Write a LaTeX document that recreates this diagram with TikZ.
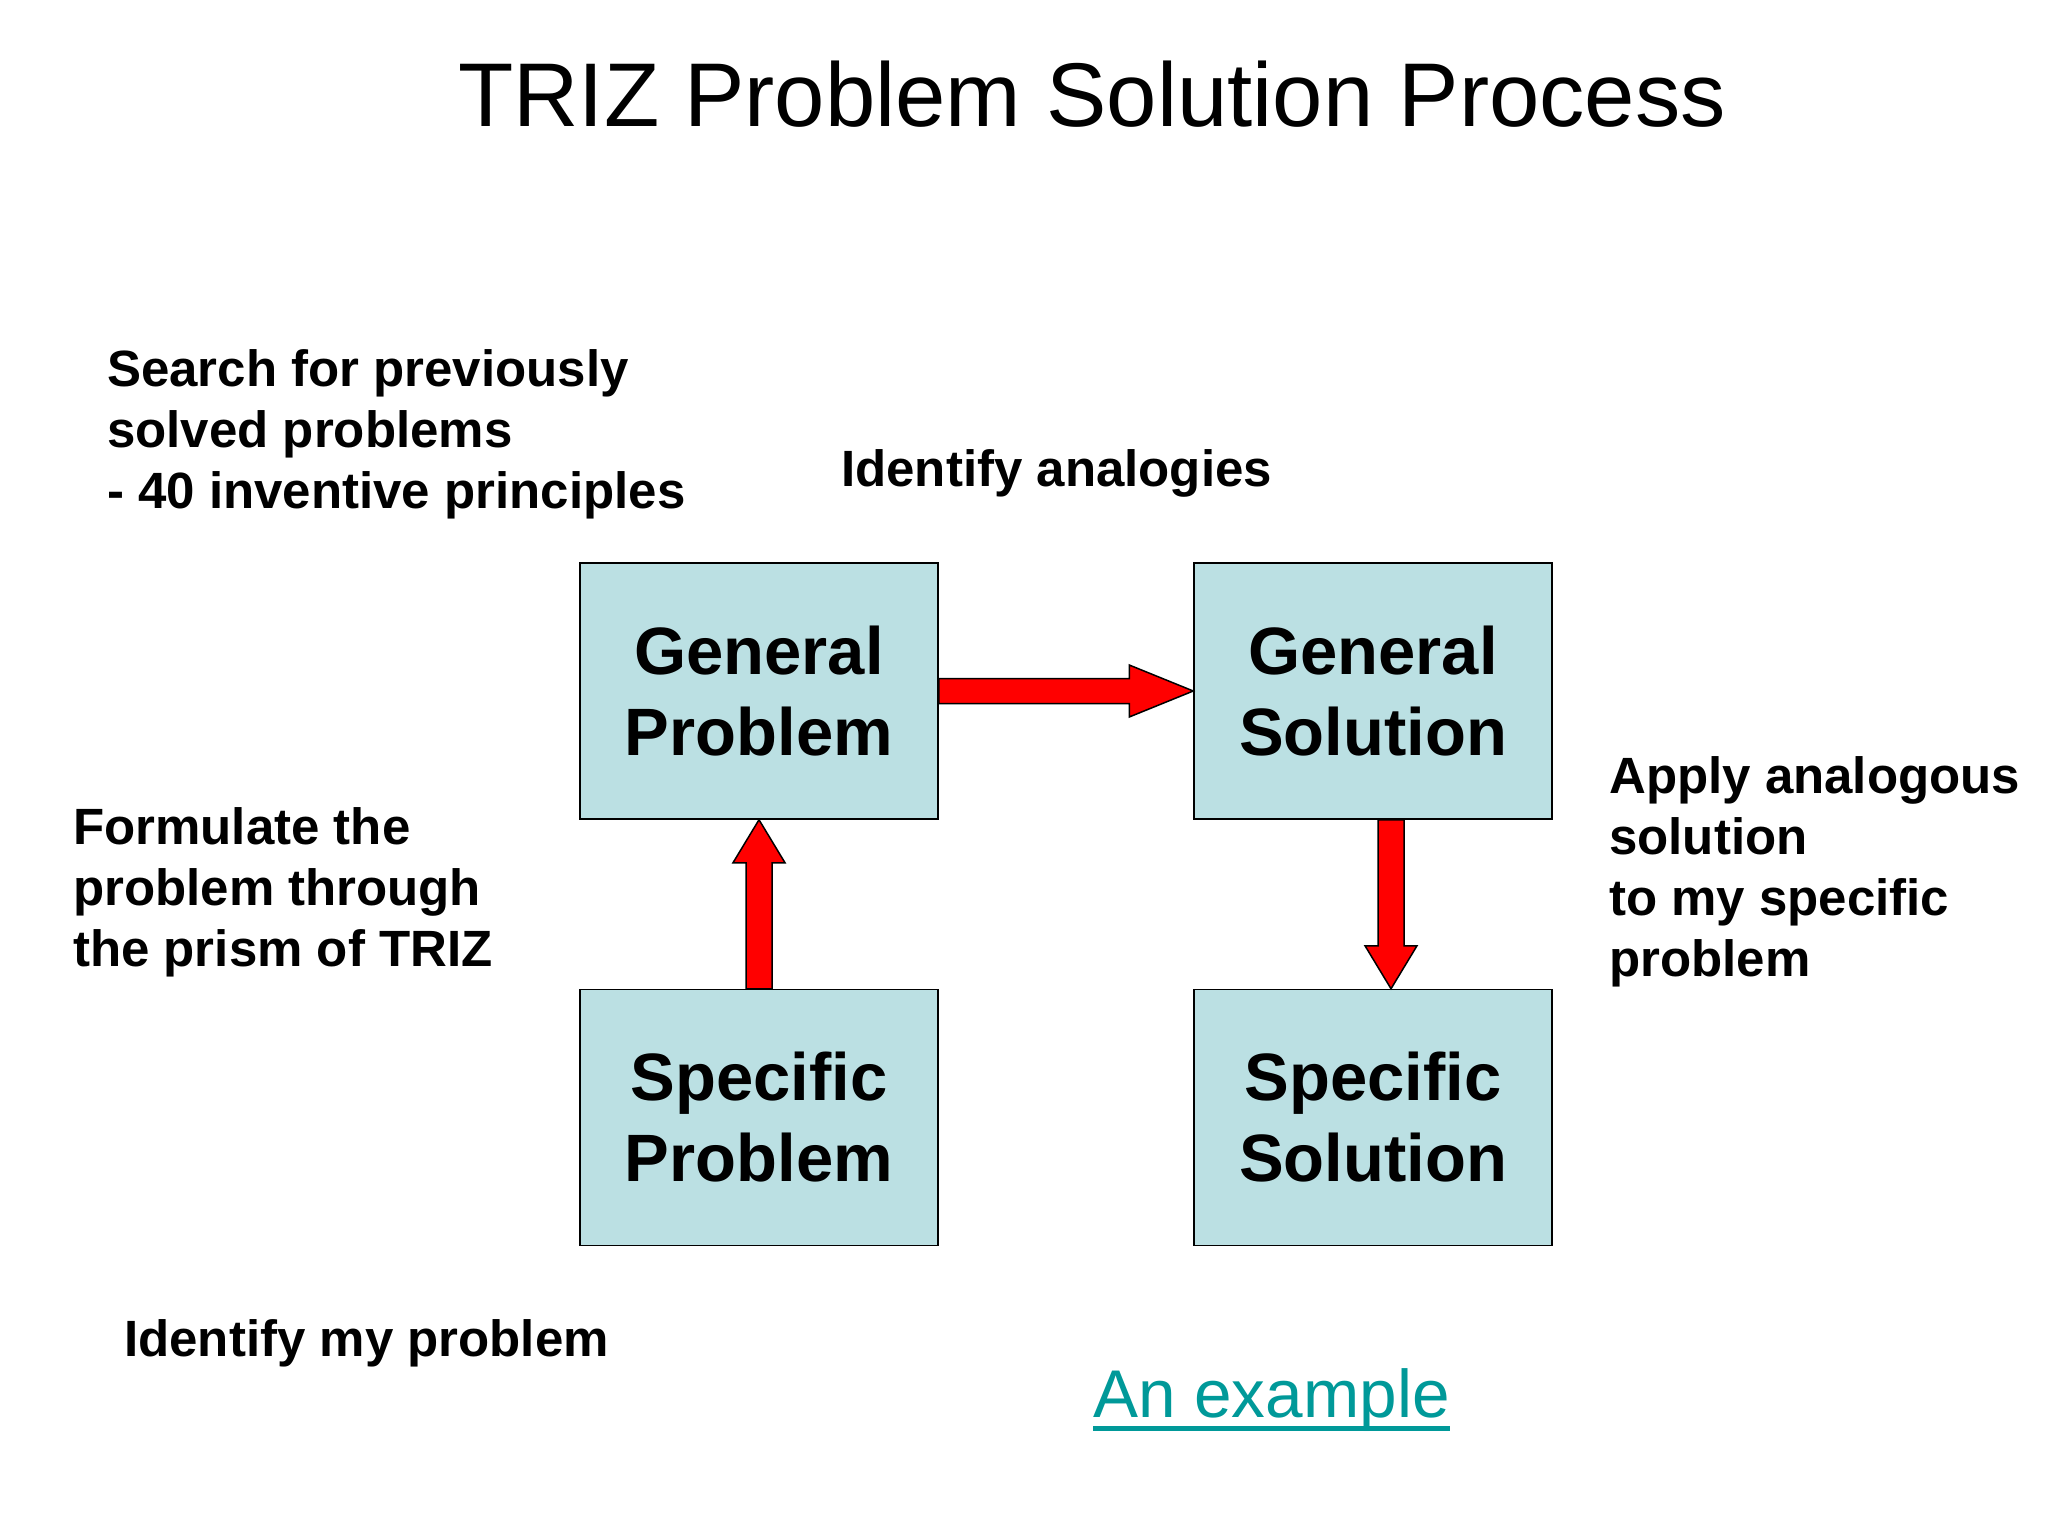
\documentclass[tikz,border=0pt]{standalone}
\usepackage{fontspec}
\setmainfont{Liberation Sans}
\usetikzlibrary{calc}
\definecolor{boxfill}{HTML}{BBE0E3}
\definecolor{linkteal}{HTML}{009999}
\definecolor{arrred}{HTML}{FF0000}
\begin{document}
\begin{tikzpicture}[x=1pt,y=-1pt,
  stagebox/.style={draw=black, line width=1.5pt, fill=boxfill, minimum width=358pt, minimum height=256pt, inner sep=0pt, align=center, font=\fontsize{67}{81}\selectfont\bfseries},
  label/.style={inner sep=0pt, anchor=base west, align=left, font=\fontsize{51}{61}\selectfont\bfseries},
  fatarrow/.style={draw=black, line width=1.5pt, fill=arrred, line join=miter}
]
\useasboundingbox (0,0) rectangle (2048,1536);
\fill[white] (0,0) rectangle (2048,1536);

\node[inner sep=0pt, anchor=base, font=\fontsize{90.5}{108}\selectfont] (title) at (1092,127) {TRIZ Problem Solution Process};

\node[stagebox] (gp) at (759,691) {General\\Problem};
\node[stagebox] (gs) at (1373,691) {General\\Solution};
\node[stagebox] (sp) at (759,1117.5) {Specific\\Problem};
\node[stagebox] (ss) at (1373,1117.5) {Specific\\Solution};

% anchor = baseline of the last line
\node[label] (search) at (107,508) {Search for previously\\solved problems\\- 40 inventive principles};
\node[label] (analog) at (841,486) {Identify analogies};
\node[label] (formul) at (73,966) {Formulate the\\problem through\\the prism of TRIZ};
\node[label] (apply) at (1609,976) {Apply analogous\\solution\\to my specific\\problem};
\node[label] (ident) at (124,1356) {Identify my problem};

\node[inner sep=0pt, anchor=base west, text=linkteal, font=\fontsize{67.5}{80}\selectfont] (ex) at (1093,1417) {An example};
\draw[linkteal, line width=5pt] ($(ex.base west)+(0,11)$) -- ($(ex.base east)+(0,11)$);

% horizontal arrow gp -> gs
\draw[fatarrow] ($(gp.east)+(0,-12.5)$) -- ($(gs.west)+(-64,-12.5)$) -- ($(gs.west)+(-64,-26)$) -- (gs.west)
  -- ($(gs.west)+(-64,26)$) -- ($(gs.west)+(-64,12.5)$) -- ($(gp.east)+(0,12.5)$) -- cycle;

% up arrow sp -> gp
\draw[fatarrow] ($(sp.north)+(-13,0)$) -- ($(gp.south)+(-13,43)$) -- ($(gp.south)+(-26,43)$) -- (gp.south)
  -- ($(gp.south)+(26,43)$) -- ($(gp.south)+(13,43)$) -- ($(sp.north)+(13,0)$) -- cycle;

% down arrow gs -> ss (offset right of centre)
\coordinate (dtop) at ($(gs.south)+(18,0)$);
\coordinate (dtip) at ($(ss.north)+(18,0)$);
\draw[fatarrow] ($(dtop)+(-13,0)$) -- ($(dtip)+(-13,-43)$) -- ($(dtip)+(-26,-43)$) -- (dtip)
  -- ($(dtip)+(26,-43)$) -- ($(dtip)+(13,-43)$) -- ($(dtop)+(13,0)$) -- cycle;
\end{tikzpicture}
\end{document}
